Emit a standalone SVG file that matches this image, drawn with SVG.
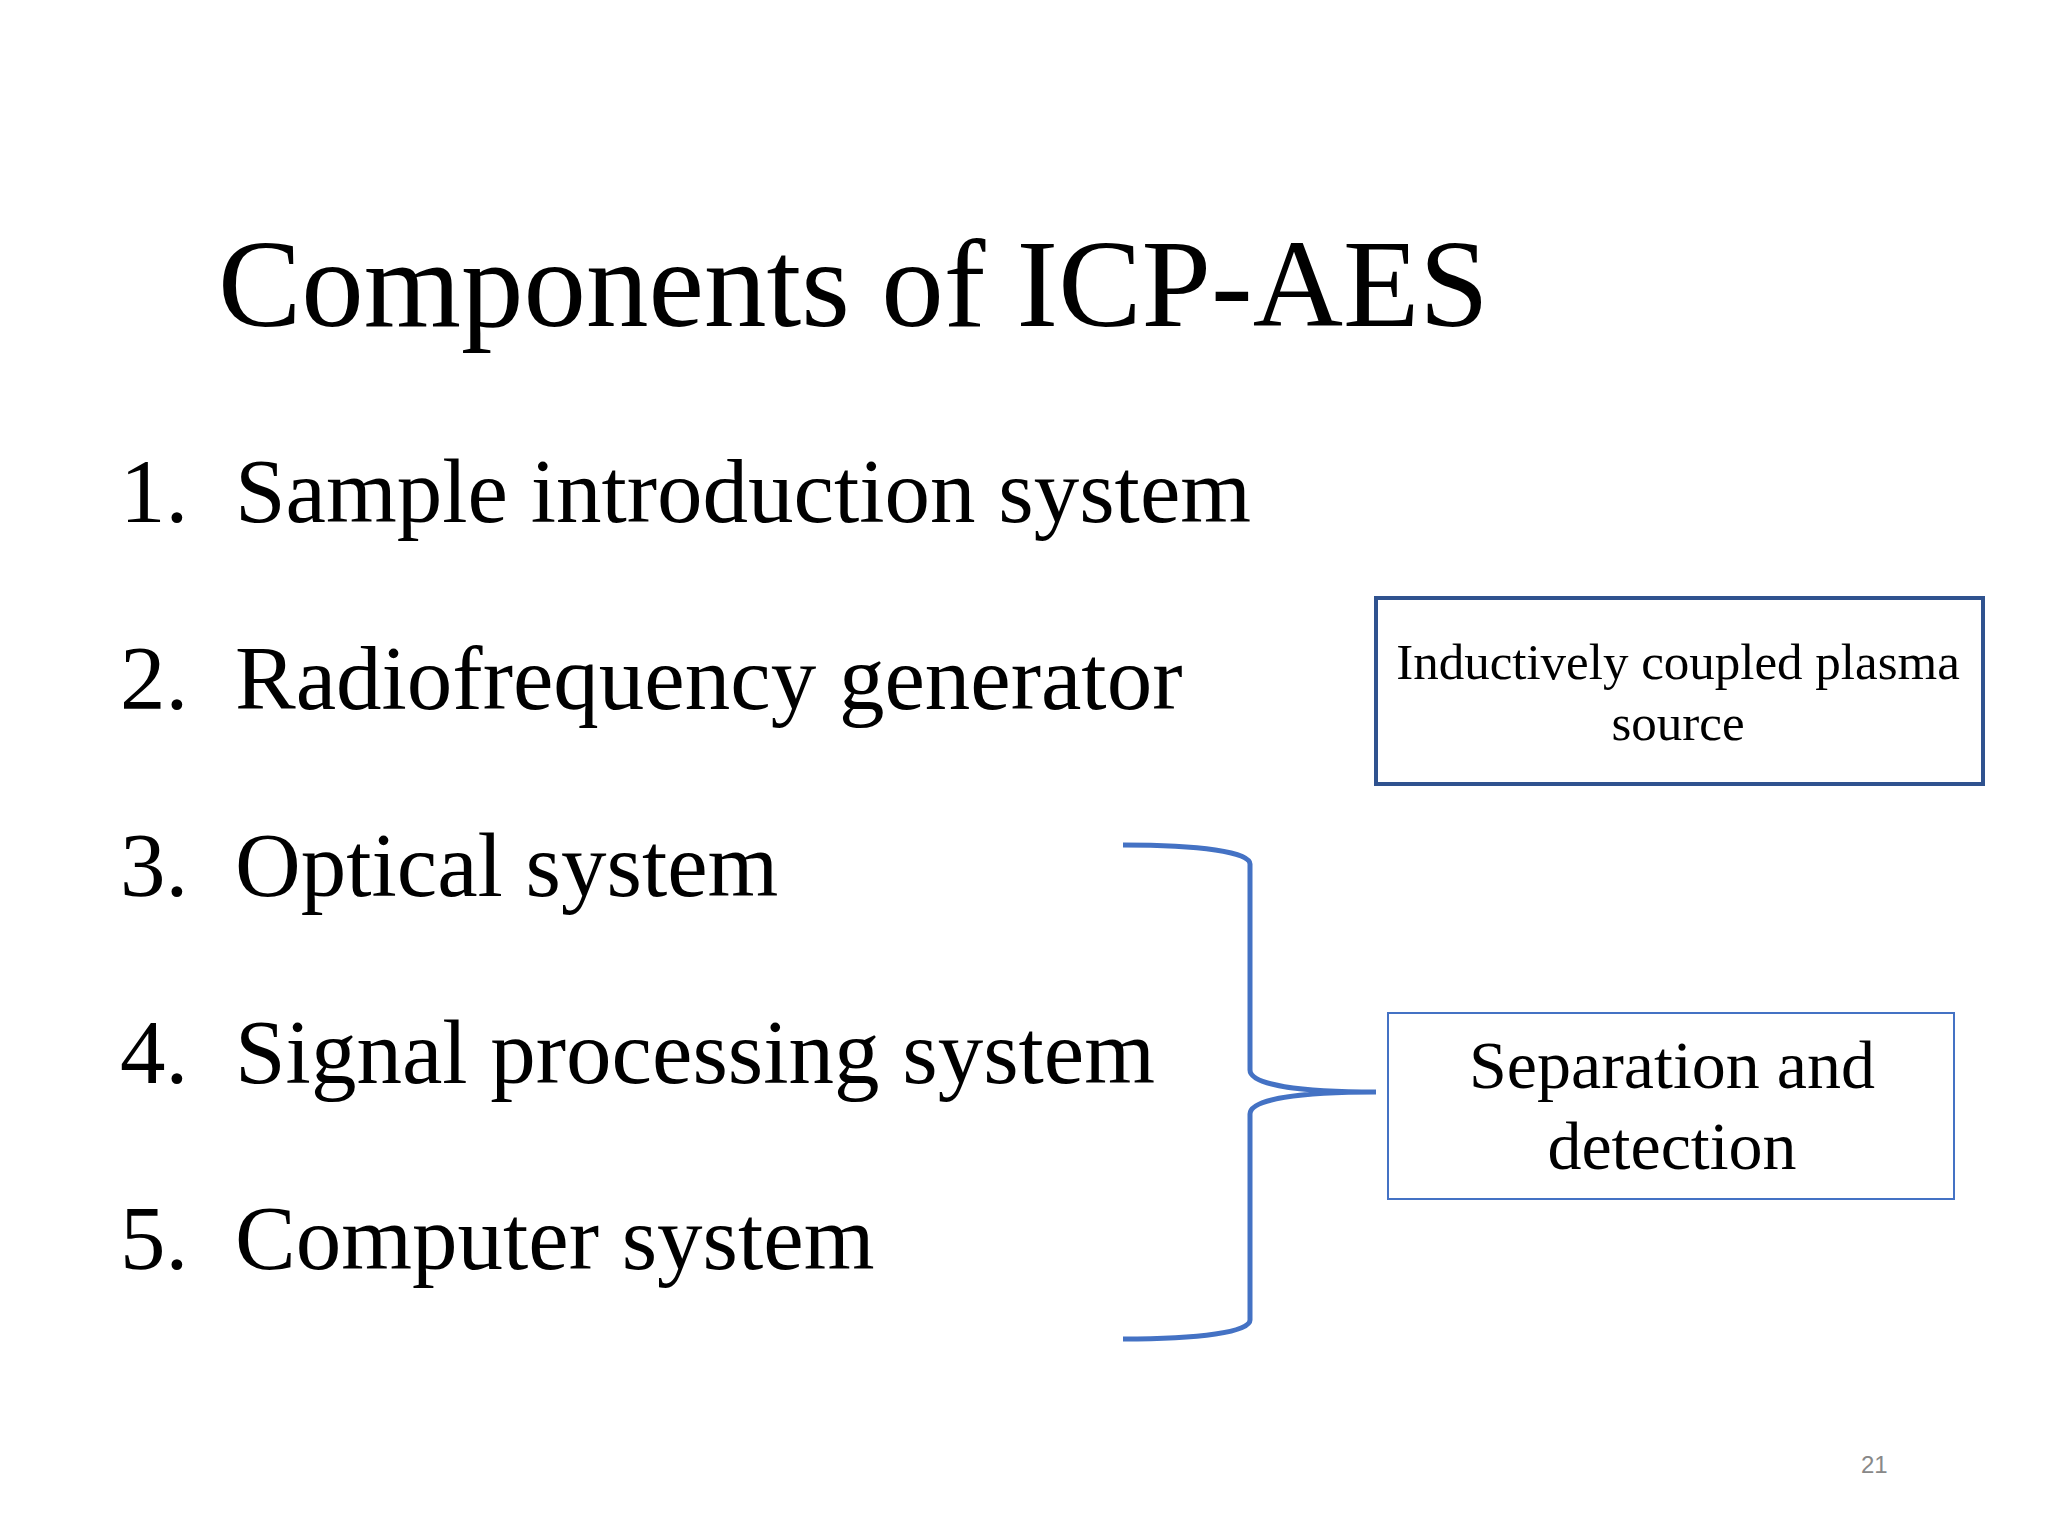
<svg xmlns="http://www.w3.org/2000/svg" width="2048" height="1536" viewBox="0 0 2048 1536">
<style>
.t{font-family:"Liberation Serif","Times New Roman",serif;fill:#000}
.li{font-size:91px}
</style>
<rect width="2048" height="1536" fill="#fff"/>
<text class="t" x="218" y="326" font-size="125">Components of ICP-AES</text>
<g id="list">
<text class="t li" x="120" y="522">1.</text><text class="t li" x="235" y="522">Sample introduction system</text>
<text class="t li" x="120" y="709">2.</text><text class="t li" x="235" y="709">Radiofrequency generator</text>
<text class="t li" x="120" y="896">3.</text><text class="t li" x="235" y="896">Optical system</text>
<text class="t li" x="120" y="1083">4.</text><text class="t li" x="235" y="1083">Signal processing system</text>
<text class="t li" x="120" y="1269">5.</text><text class="t li" x="235" y="1269">Computer system</text>
</g>
<g id="icp">
<rect x="1376" y="598" width="607" height="186" fill="#fff" stroke="#2f528f" stroke-width="4"/>
<text class="t" x="1678" y="679" font-size="51" text-anchor="middle">Inductively coupled plasma</text>
<text class="t" x="1678" y="740" font-size="51" text-anchor="middle">source</text>
</g>
<g id="sep">
<rect x="1388" y="1013" width="566" height="186" fill="#fff" stroke="#4472c4" stroke-width="2"/>
<text class="t" x="1672" y="1088" font-size="68" text-anchor="middle">Separation and</text>
<text class="t" x="1672" y="1169" font-size="68" text-anchor="middle">detection</text>
</g>
<g id="connectors">
<path d="M1123,845 C1200,845 1250,852 1250,864 L1250,1070 C1250,1085 1300,1092 1376,1092 C1300,1092 1250,1099 1250,1114 L1250,1320 C1250,1332 1200,1339 1123,1339" fill="none" stroke="#4472c4" stroke-width="5"/>
</g>
<text x="1861" y="1473" font-family="Liberation Sans, sans-serif" font-size="24" fill="#888">21</text>
</svg>
